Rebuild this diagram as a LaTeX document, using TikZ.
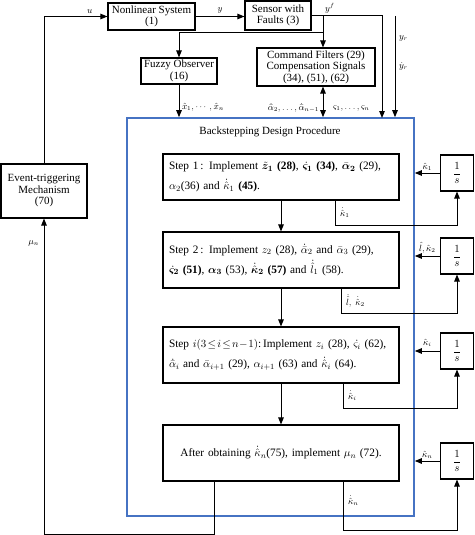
\documentclass[tikz,border=0pt]{standalone}
\usepackage{amsmath,amssymb,bm}
\usepackage{fontspec}
\setmainfont{Liberation Serif}
\usetikzlibrary{arrows.meta,calc}
\definecolor{bpblue}{RGB}{70,115,195}
\begin{document}
\begin{tikzpicture}[x=1pt,y=-1pt,
  box/.style={draw, line width=1.1pt, align=center, inner sep=1pt, font=\fontsize{11}{11.5}\selectfont},
  stepbox/.style={draw, line width=1.1pt, minimum width=236pt, minimum height=56pt, text width=224pt, align=left, inner xsep=6pt, font=\fontsize{11.3}{20}\selectfont},
  intbox/.style={draw, line width=1.1pt, minimum width=33pt, minimum height=36pt, inner sep=0pt, font=\fontsize{11}{12}\selectfont},
  bluebox/.style={draw=bpblue, line width=1.6pt, minimum width=287pt, minimum height=398pt, inner sep=0pt},
  ln/.style={line width=1pt},
  arr/.style={line width=1pt, -{Triangle[length=7pt,width=5.5pt]}},
  lab/.style={font=\fontsize{9}{10}\selectfont, inner sep=1.5pt}]
\useasboundingbox (0,0) rectangle (474,535);

% top blocks
\node[box, minimum width=87pt, minimum height=27pt] (ns) at (151.5,16.5) {Nonlinear System\\(1)};
\node[box, minimum width=66pt, minimum height=29pt] (sf) at (278,15.5) {Sensor with\\Faults (3)};
\node[box, minimum width=76pt, minimum height=26pt] (fo) at (179,71) {Fuzzy Observer\\(16)};
\node[box, minimum width=118pt, minimum height=38pt] (cf) at (316,67) {Command Filters (29)\\Compensation Signals\\(34), (51), (62)};
\node[box, minimum width=86pt, minimum height=54pt] (et) at (44,191) {Event-triggering\\Mechanism\\(70)};

% blue frame
\node[bluebox] (bp) at (270.5,317) {};
\node[font=\fontsize{11}{12}\selectfont] (title) at (270,132) {Backstepping Design Procedure};

% step boxes
\node[stepbox, minimum height=46pt] (s1) at (281,177) {Step 1\,: Implement $\bm{\tilde{z}_1}$ \textbf{(28)}, $\bm{\dot{\varsigma}_1}$ \textbf{(34)}, $\bm{\bar{\alpha}_2}$ (29),\\$\alpha_2$(36) and $\dot{\hat{\kappa}}_1$ \textbf{(45)}.};
\node[stepbox] (s2) at (281,260) {Step 2\,: Implement $z_2$ (28), $\dot{\bar{\alpha}}_2$ and $\bar{\alpha}_3$ (29),\\$\bm{\dot{\varsigma}_2}$ \textbf{(51)}, $\bm{\alpha_3}$ (53), $\bm{\dot{\hat{\kappa}}_2}$ \textbf{(57)} and $\dot{\hat{l}}_1$ (58).};
\node[stepbox] (s3) at (281,355) {\mbox{Step $i(3\!\le\! i\!\le\! n\!-\!1)$:\,Implement $z_i$ (28), $\dot{\varsigma}_i$ (62),}\\$\dot{\bar{\alpha}}_i$ and $\bar{\alpha}_{i+1}$ (29), $\alpha_{i+1}$ (63) and $\dot{\hat{\kappa}}_i$ (64).};
\node[stepbox, align=center] (s4) at (281,453) {After obtaining $\dot{\hat{\kappa}}_n$(75), implement $\mu_n$ (72).};

% integrators
\node[intbox] (i1) at (457,173) {$\dfrac{1}{s}$};
\node[intbox] (i2) at (457,256) {$\dfrac{1}{s}$};
\node[intbox] (i3) at (457,351) {$\dfrac{1}{s}$};
\node[intbox] (i4) at (457,461) {$\dfrac{1}{s}$};

% coordinates
\coordinate (br) at (323,16);
\coordinate (br2) at (323,33);
\coordinate (tyf) at (382,118);
\coordinate (yr) at (395,16);
\coordinate (f1) at (335,200);
\coordinate (f2) at (341,288);
\coordinate (f3) at (343,383);
\coordinate (f4) at (343,481);
\coordinate (o4) at (214,481);

% top connections
\draw[arr] (et.north) |- node[lab, pos=0.86, above=1pt] {$u$} (ns.west);
\draw[arr] (ns.east) -- node[lab, above=1pt] {$y$} (ns.east -| sf.west);
\draw[arr] (sf.east) -| node[lab, pos=0.13, above=0pt] {$y^f$} (tyf);
\draw[arr] (br) -- (br |- cf.north);
\draw[arr] (br2) -| (fo.north);
\draw[arr] (fo.south) -- node[lab, pos=0.7, right=1pt] {$\hat{x}_1,\cdots,\hat{x}_n$} (fo.south |- bp.north);
\draw[ln, {Triangle[length=7pt,width=5.5pt]}-{Triangle[length=7pt,width=5.5pt]}] (br |- cf.south) -- node[lab, pos=0.7, left=2pt] {$\dot{\bar{\alpha}}_2,\ldots,\dot{\bar{\alpha}}_{n-1}$} node[lab, pos=0.7, right=8pt] {$\varsigma_1,\ldots,\varsigma_n$} (br |- bp.north);
\draw[arr] (yr) -- node[lab, pos=0.22, right=2pt] {$y_r$} node[lab, pos=0.5, right=2pt] {$\dot{y}_r$} (yr |- bp.north);

% steps chain
\draw[arr] (s1.south) -- (s2.north);
\draw[arr] (s2.south) -- (s3.north);
\draw[arr] (s3.south) -- (s4.north);

% feedback loops
\draw[arr] (f1) -- node[lab, right=3pt] {$\dot{\hat{\kappa}}_1$} ++(0,25) -| (i1.south);
\draw[arr] (f2) -- node[lab, right=3pt] {$\dot{\hat{l}},\ \dot{\hat{\kappa}}_2$} ++(0,25) -| (i2.south);
\draw[arr] (f3) -- node[lab, right=3pt] {$\dot{\hat{\kappa}}_i$} ++(0,25) -| (i3.south);
\draw[arr] (f4) -- node[lab, pos=0.4, right=3pt] {$\dot{\hat{\kappa}}_n$} ++(0,49) -| (i4.south);

\draw[arr] (i1.west) -- node[lab, above=1pt] {$\hat{\kappa}_1$} (i1.west -| bp.east);
\draw[arr] (i2.west) -- node[lab, above=1pt] {$\hat{l},\hat{\kappa}_2$} (i2.west -| bp.east);
\draw[arr] (i3.west) -- node[lab, above=3pt] {$\hat{\kappa}_i$} (i3.west -| bp.east);
\draw[arr] (i4.west) -- node[lab, above=1pt] {$\hat{\kappa}_n$} (i4.west -| bp.east);

% output to event trigger
\draw[arr] (o4) -- ++(0,53) -| node[lab, pos=0.96, left=3pt] {$\mu_n$} (et.south);
\end{tikzpicture}
\end{document}
